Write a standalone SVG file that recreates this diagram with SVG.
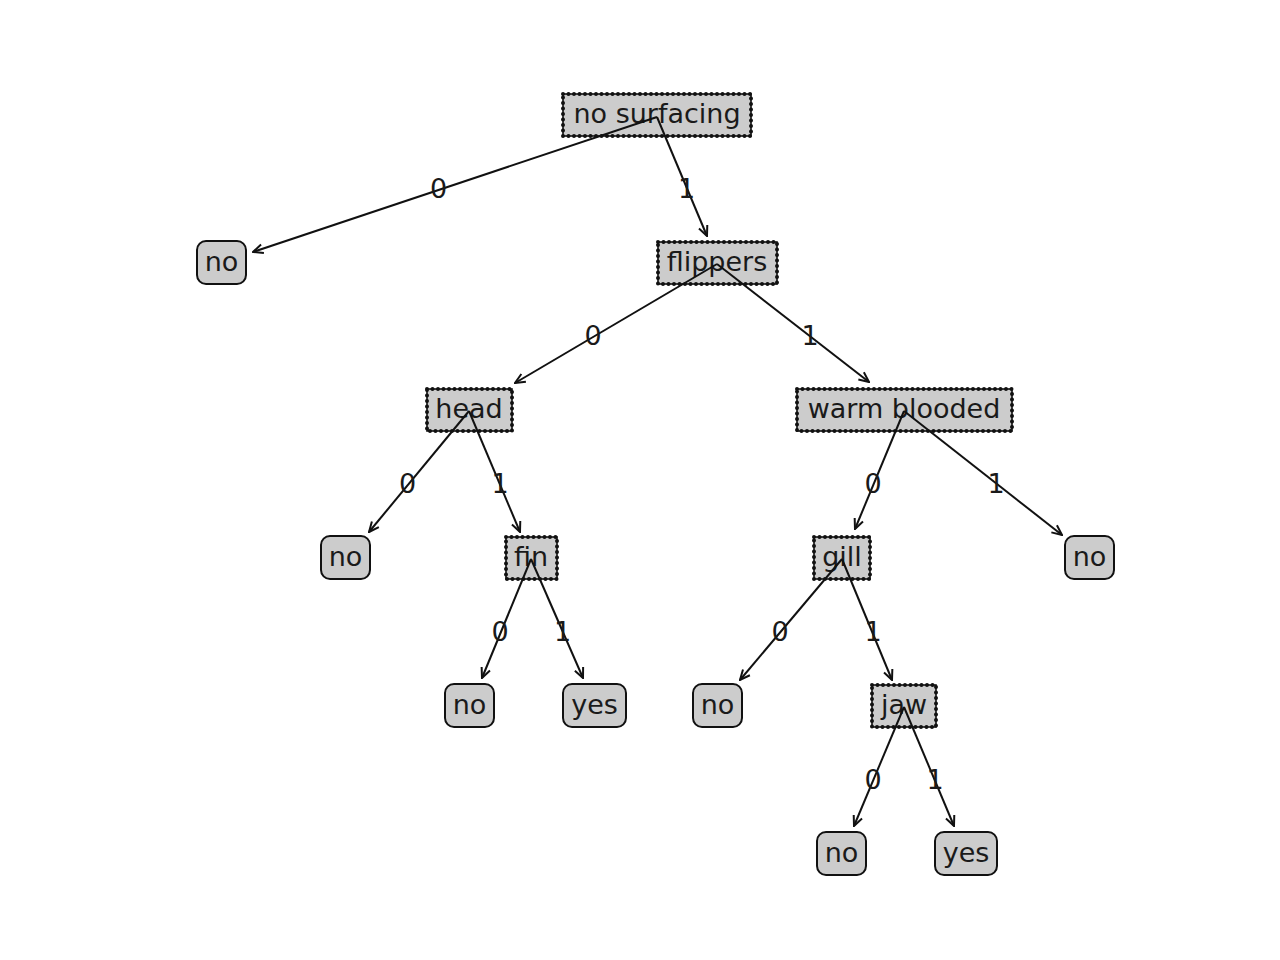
<svg xmlns="http://www.w3.org/2000/svg" width="1280" height="960" viewBox="0 0 1280 960">
<style>
.dec rect.b{fill:#cccccc;stroke:#111;stroke-width:1.6}
.dec rect.t{fill:none;stroke:#111;stroke-width:4;stroke-dasharray:0 5.5;stroke-linecap:round}
.leaf rect{fill:#cccccc;stroke:#111;stroke-width:2}
text{font-family:"DejaVu Sans","Liberation Sans",sans-serif;font-size:27px;fill:#1a1a1a;text-anchor:middle}
.conn line{stroke:#111;stroke-width:2;marker-end:url(#ah)}
.lbl text{font-size:27px}
</style>
<defs>
<marker id="ah" markerWidth="12" markerHeight="12" viewBox="0 0 12 12" refX="11" refY="6" orient="auto" markerUnits="userSpaceOnUse">
<path d="M1,1.5 L11,6 L1,10.5" fill="none" stroke="#111" stroke-width="2"/>
</marker>
</defs>
<rect width="1280" height="960" fill="#ffffff"/>

<g id="n-nosurfacing" class="dec"><rect class="b" x="563" y="94" width="188" height="42"/><rect class="t" x="563" y="94" width="188" height="42"/><text x="657" y="123">no surfacing</text></g>
<g id="n-flippers" class="dec"><rect class="b" x="658" y="242" width="119" height="42"/><rect class="t" x="658" y="242" width="119" height="42"/><text x="717" y="271">flippers</text></g>
<g id="n-head" class="dec"><rect class="b" x="427" y="389" width="85" height="42"/><rect class="t" x="427" y="389" width="85" height="42"/><text x="469" y="418">head</text></g>
<g id="n-warmblooded" class="dec"><rect class="b" x="797" y="389" width="215" height="42"/><rect class="t" x="797" y="389" width="215" height="42"/><text x="904" y="418">warm blooded</text></g>
<g id="n-fin" class="dec"><rect class="b" x="506" y="537" width="51" height="42"/><rect class="t" x="506" y="537" width="51" height="42"/><text x="531" y="566">fin</text></g>
<g id="n-gill" class="dec"><rect class="b" x="814" y="537" width="56" height="42"/><rect class="t" x="814" y="537" width="56" height="42"/><text x="842" y="566">gill</text></g>
<g id="n-jaw" class="dec"><rect class="b" x="872" y="685" width="64" height="42"/><rect class="t" x="872" y="685" width="64" height="42"/><text x="904" y="714">jaw</text></g>

<g id="l-no1" class="leaf"><rect x="197" y="241" width="49" height="43" rx="9"/><text x="221.5" y="271">no</text></g>
<g id="l-no2" class="leaf"><rect x="321" y="536" width="49" height="43" rx="9"/><text x="345.5" y="566">no</text></g>
<g id="l-no3" class="leaf"><rect x="1065" y="536" width="49" height="43" rx="9"/><text x="1089.5" y="566">no</text></g>
<g id="l-no4" class="leaf"><rect x="445" y="684" width="49" height="43" rx="9"/><text x="469.5" y="714">no</text></g>
<g id="l-yes1" class="leaf"><rect x="563" y="684" width="63" height="43" rx="9"/><text x="594.5" y="714">yes</text></g>
<g id="l-no5" class="leaf"><rect x="693" y="684" width="49" height="43" rx="9"/><text x="717.5" y="714">no</text></g>
<g id="l-no6" class="leaf"><rect x="817" y="832" width="49" height="43" rx="9"/><text x="841.5" y="862">no</text></g>
<g id="l-yes2" class="leaf"><rect x="935" y="832" width="62" height="43" rx="9"/><text x="966" y="862">yes</text></g>

<g id="connectors" class="conn">
<line x1="657" y1="117" x2="253" y2="252"/>
<line x1="657" y1="117" x2="707" y2="236"/>
<line x1="717" y1="264" x2="515" y2="383"/>
<line x1="717" y1="264" x2="869" y2="382"/>
<line x1="469" y1="411" x2="369" y2="532"/>
<line x1="469" y1="411" x2="520" y2="532"/>
<line x1="904" y1="411" x2="855" y2="529"/>
<line x1="904" y1="411" x2="1062" y2="535"/>
<line x1="531" y1="559" x2="482" y2="678"/>
<line x1="531" y1="559" x2="583" y2="678"/>
<line x1="842" y1="559" x2="740" y2="680"/>
<line x1="842" y1="559" x2="892" y2="680"/>
<line x1="904" y1="707" x2="854" y2="826"/>
<line x1="904" y1="707" x2="954" y2="826"/>
</g>
<g id="edge-labels" class="lbl">
<text x="438.5" y="198">0</text>
<text x="686.5" y="198">1</text>
<text x="593" y="345">0</text>
<text x="810" y="345">1</text>
<text x="407.5" y="493">0</text>
<text x="500" y="493">1</text>
<text x="873" y="493">0</text>
<text x="996" y="493">1</text>
<text x="500" y="641">0</text>
<text x="562.5" y="641">1</text>
<text x="780" y="641">0</text>
<text x="873" y="641">1</text>
<text x="873" y="789">0</text>
<text x="935" y="789">1</text>
</g>
</svg>
